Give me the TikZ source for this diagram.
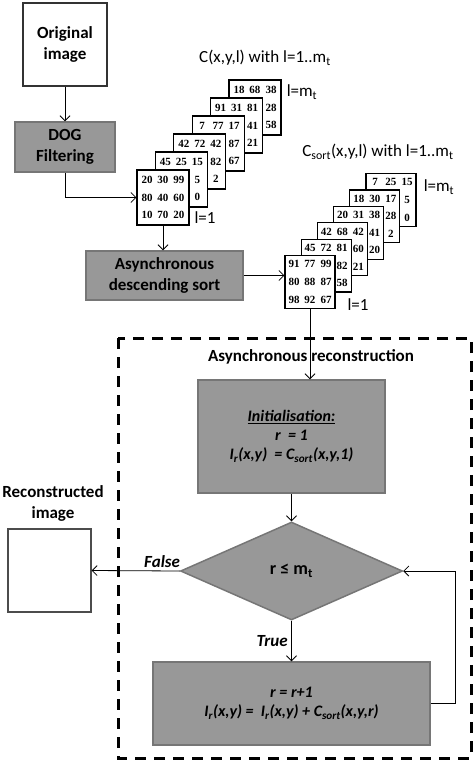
\documentclass[tikz,border=0pt]{standalone}
\usepackage{fontspec}
\usepackage{array}
\setmainfont{Carlito}
\newfontfamily\numfont{Liberation Serif}
\usetikzlibrary{arrows.meta,shapes.geometric,positioning,calc}
\definecolor{boxgray}{RGB}{152,152,152}
\definecolor{edgegray}{RGB}{118,118,118}
\newcolumntype{Z}{>{\centering\arraybackslash}p{16pt}}
\renewcommand{\arraystretch}{1.35}
% one slice of a stack: name, centre, three rows
\newcommand{\mtx}[6][mat]{\node[#1](#2) at(#3){\begin{tabular}{@{}Z@{}Z@{}Z@{}}#4\\#5\\#6\end{tabular}};}

\begin{document}
\begin{tikzpicture}[x=1pt,y=-1pt,font=\fontsize{17}{21}\selectfont\bfseries,
  box/.style={draw=black!80,line width=1.2pt,fill=white,align=center},
  proc/.style={draw=edgegray,line width=1.5pt,fill=boxgray,align=center},
  mat/.style={draw,line width=1.2pt,fill=white,inner sep=0pt,minimum width=52pt,minimum height=55pt,
    font=\numfont\bfseries\fontsize{11}{13}\selectfont},
  smat/.style={mat,minimum width=50pt,minimum height=52pt},
  lbl/.style={font=\fontsize{17}{21}\selectfont\mdseries},
  eq/.style={font=\fontsize{16}{19}\selectfont\bfseries\itshape},
  arr/.style={-{Straight Barb[length=5pt,width=10pt]},line width=0.8pt},
  recframe/.style={line width=3pt,dash pattern=on 11pt off 8pt}]
\useasboundingbox(0,0)rectangle(474,761);
\node[box,minimum width=84pt,minimum height=83pt](orig) at(65,44.5){Original\\image};
\node[proc,minimum width=100pt,minimum height=50pt](dog) at(65,147){DOG\\Filtering};
\node[proc,minimum width=157pt,minimum height=49pt](sort) at(164.5,275.5){Asynchronous\\descending sort};
% input coefficients
\mtx{c5}{255,107.5}{18&68&38}{&&28}{&&58}
\mtx{c4}{236.6,125.5}{91&31&81}{&&41}{&&21}
\mtx{c3}{218.2,143.5}{7&77&17}{&&87}{&&67}
\mtx{c2}{199.8,161.5}{42&72&42}{&&82}{&&2}
\mtx{c1}{181.4,179.5}{45&25&15}{&&5}{&&0}
\mtx{c0}{163,197.5}{20&30&99}{80&40&60}{10&70&20}
\node[lbl](clab) at(265,58){C(x,y,l) with l=1..m\textsubscript{t}};
\node[lbl](ctop) at(302,92){l=m\textsubscript{t}};
\node[lbl](cbot) at(205,218){l=1};
% sorted coefficients
\mtx[smat]{s5}{391,200}{7&25&15}{&&5}{&&0}
\mtx[smat]{s4}{374.8,216.4}{18&30&17}{&&28}{&&2}
\mtx[smat]{s3}{358.6,232.8}{20&31&38}{&&41}{&&20}
\mtx[smat]{s2}{342.4,249.2}{42&68&42}{&&60}{&&21}
\mtx[smat]{s1}{326.2,265.6}{45&72&81}{&&82}{&&58}
\mtx[smat]{s0}{310,282}{91&77&99}{80&88&87}{98&92&67}
\node[lbl](slab) at(378,152){C\textsubscript{sort}(x,y,l) with l=1..m\textsubscript{t}};
\node[lbl](stop) at(439,187){l=m\textsubscript{t}};
\node[lbl](sbot) at(358,305){l=1};
% reconstruction loop
\draw[recframe](118,338)rectangle(471,758);
\node(rtitle) at(311,357){Asynchronous reconstruction};
\node[proc,eq,minimum width=187pt,minimum height=113pt](init) at(291.5,436.5)
  {\underline{Initialisation:}\\r\ \ = 1\\I\textsubscript{r}(x,y)\ \ = C\textsubscript{sort}(x,y,1)};
\node[proc,diamond,inner sep=0pt,minimum width=222pt,minimum height=98pt,font=\fontsize{18}{21}\selectfont\bfseries](cond) at(291.5,571){r ≤ m\textsubscript{t}};
\node[proc,eq,minimum width=277pt,minimum height=83pt](upd) at(291.5,703.5)
  {r = r+1\\I\textsubscript{r}(x,y) =\ \ I\textsubscript{r}(x,y) + C\textsubscript{sort}(x,y,r)};
\node[box,draw=black!70,minimum width=83pt,minimum height=83pt](rimg) at(49.5,570.5){};
\node[align=center](rlab) at(53,503){Reconstructed\\image};
\draw[arr](orig)--(dog);
\draw[arr](dog.south)|-(c0.west);
\draw[arr](c0.south)--(c0.south|-sort.north);
\draw[arr](sort.east)--(sort.east-|s0.west);
\draw[arr](s0.south)--(s0.south|-init.north);
\draw[arr](init)--(cond);
\draw[arr](cond.west)--(rimg.east)node[pos=0.2,above,font=\fontsize{17}{21}\selectfont\bfseries\itshape]{False};
\draw[arr](cond)--(upd)node[midway,left,font=\fontsize{17}{21}\selectfont\bfseries\itshape]{True};
\draw[arr](upd.east)--++(25,0)|-(cond.east);
\end{tikzpicture}
\end{document}
